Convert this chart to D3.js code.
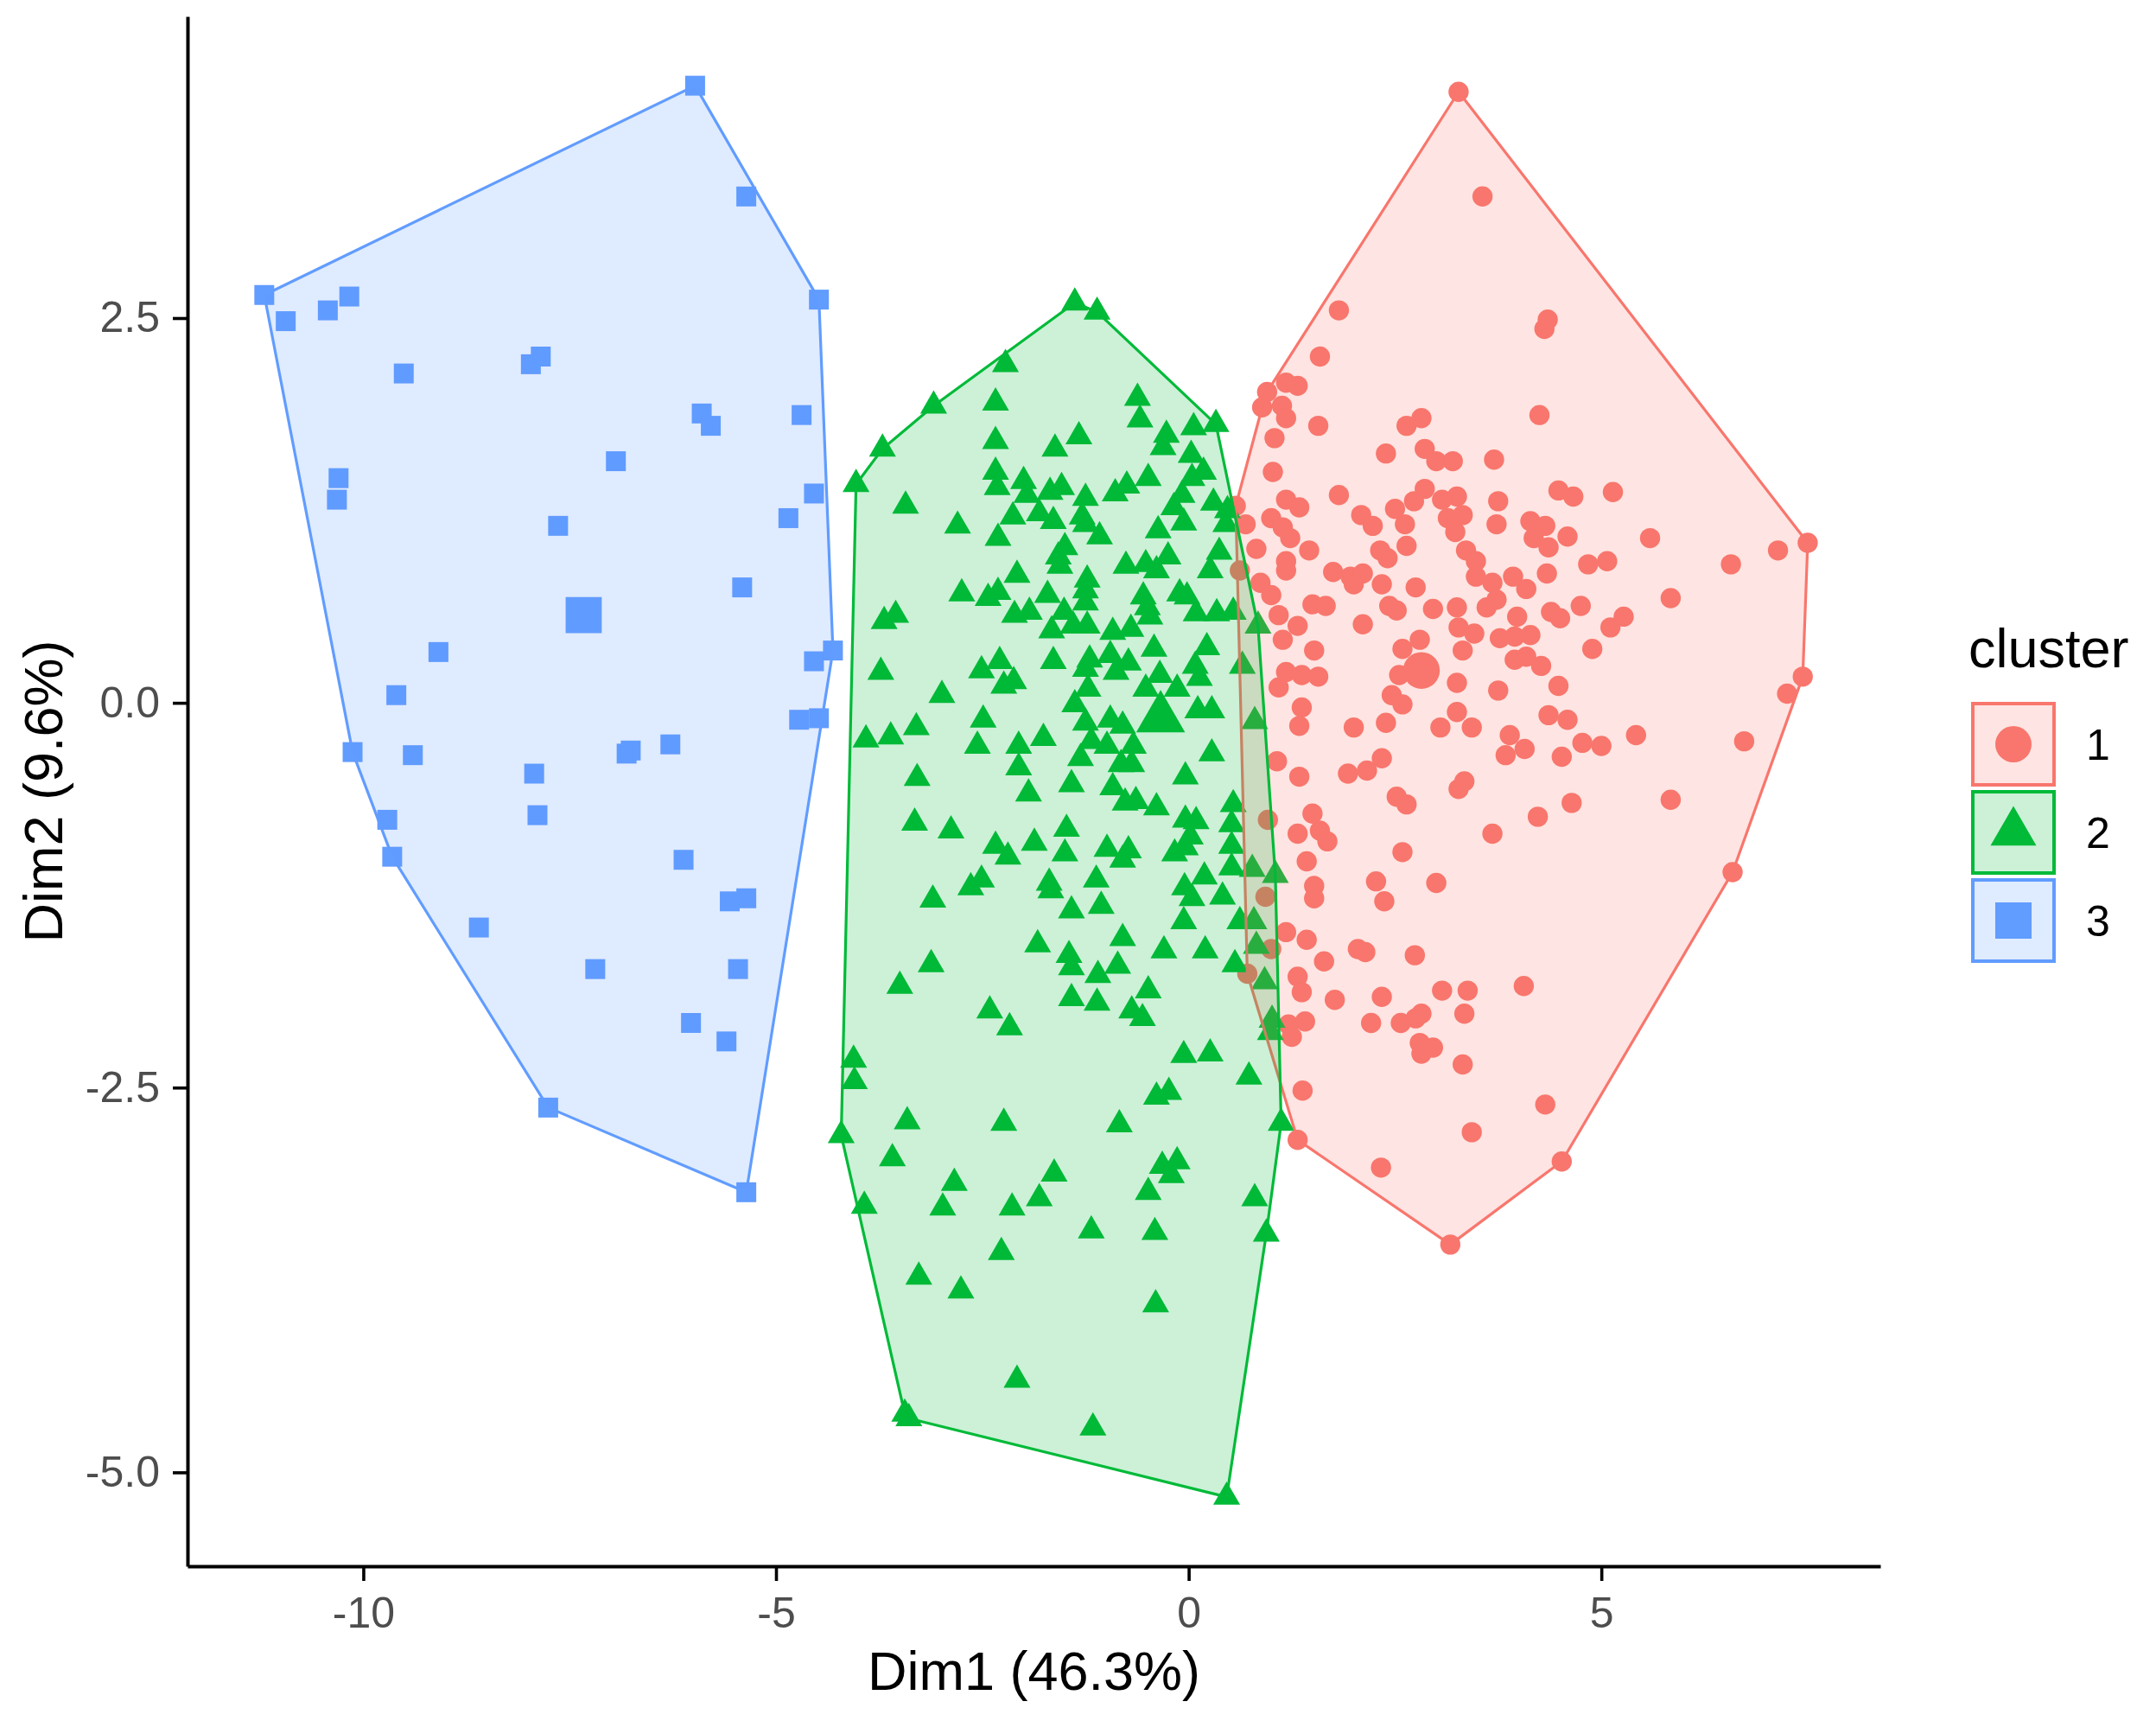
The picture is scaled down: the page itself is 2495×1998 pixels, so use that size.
<!DOCTYPE html>
<html>
<head>
<meta charset="utf-8">
<script src="https://cdn.jsdelivr.net/npm/d3@7"></script>
<style>
  html, body { margin: 0; padding: 0; background: #fff; }
  svg { display: block; font-family: "Liberation Sans", Arial, sans-serif; }
</style>
</head>
<body>
<svg id="chart" width="2495" height="1998"></svg>
<script>
// Cluster plot (PCA, k = 3).

const clusterNames = ['1', '2', '3'];
const clusterColors = ['#F8766D', '#00BA38', '#619CFF'];

const cluster1 = [
  [3.27,3.97],[3.56,3.29],[1.82,2.55],[4.35,2.49],[4.31,2.43],[1.59,2.25],[1.18,2.08],[1.32,2.06],[0.95,2.02],[0.89,1.92],
  [1.13,1.93],[1.18,1.85],[1.57,1.80],[1.04,1.72],[2.64,1.80],[2.82,1.85],[4.25,1.87],[2.39,1.62],[2.86,1.65],[3.00,1.57],
  [3.20,1.57],[3.70,1.58],[1.02,1.50],
  [1.82,1.35],[2.86,1.39],[3.25,1.34],[3.07,1.32],[4.48,1.38],[4.66,1.34],[5.14,1.37],[3.75,1.31],[1.18,1.32],[1.34,1.27],
  [2.50,1.26],[2.73,1.31],[0.57,1.28],[1.00,1.20],[1.14,1.14],[1.23,1.07],[2.09,1.22],[2.23,1.15],[2.62,1.16],[3.14,1.20],
  [3.32,1.22],[3.23,1.11],[3.73,1.16],[4.14,1.18],[4.32,1.15],[4.18,1.07],[4.36,1.01],[4.59,1.08],[5.59,1.07],[7.50,1.04],
  [7.14,0.99],[6.57,0.90],[0.69,1.16],[0.82,1.00],[1.46,0.99],[1.18,0.92],[2.64,1.02],[2.32,0.99],[2.41,0.94],[3.36,0.99],
  [3.48,0.92],[4.84,0.90],[5.07,0.92],[4.34,0.84],[0.62,0.86],[1.75,0.85],[1.96,0.82],[2.11,0.84],[2.00,0.77],[1.18,0.86],
  [3.48,0.82],[3.68,0.78],[3.93,0.82],[4.09,0.74],[2.34,0.77],[2.75,0.75],[0.87,0.78],[1.00,0.70],[5.84,0.68],[1.50,0.64],
  [1.66,0.63],[2.43,0.63],[2.52,0.60],[2.96,0.61],[3.25,0.62],[3.61,0.62],[3.73,0.67],[4.39,0.59],[4.50,0.55],[4.75,0.63],
  [3.98,0.56],[1.09,0.57],[1.32,0.50],[1.14,0.41],[2.11,0.51],[3.27,0.49],[3.46,0.45],[5.27,0.56],[5.11,0.49],[2.80,0.41],
  [2.59,0.35],[3.77,0.42],[3.95,0.43],[4.14,0.44],[3.32,0.34],[4.89,0.35],[1.52,0.34],[3.95,0.28],[4.09,0.30],[4.27,0.24],
  [2.55,0.18],[1.18,0.20],[1.37,0.18],[1.57,0.17],[1.09,0.10],[3.25,0.13],[3.75,0.08],[4.48,0.11],[2.46,0.05],[2.59,-0.01],
  [7.44,0.17],[7.25,0.06],[1.37,-0.03],[1.34,-0.15],[2.00,-0.16],[2.39,-0.13],[3.25,-0.06],[3.05,-0.16],[3.43,-0.16],[4.36,-0.08],
  [4.59,-0.11],[3.89,-0.21],[3.84,-0.34],[4.07,-0.30],[4.52,-0.35],[4.77,-0.26],[5.00,-0.28],[5.42,-0.21],[6.73,-0.25],[1.07,-0.38],
  [1.34,-0.48],[1.93,-0.46],[2.16,-0.44],[2.34,-0.36],[3.27,-0.56],[3.34,-0.51],[2.52,-0.61],[2.64,-0.66],[1.50,-0.72],[0.96,-0.76],
  [1.32,-0.85],[1.59,-0.83],[1.68,-0.90],[3.68,-0.85],[4.23,-0.74],[4.64,-0.65],[5.84,-0.63],[2.59,-0.97],[1.43,-1.03],[6.59,-1.10],
  [2.27,-1.16],[3.00,-1.17],[1.52,-1.19],
  [0.93,-1.26],[1.52,-1.27],[2.37,-1.29],[1.18,-1.49],[1.43,-1.54],[1.00,-1.60],[2.05,-1.60],[2.14,-1.62],[2.74,-1.64],[1.64,-1.68],
  [0.71,-1.76],[1.32,-1.78],[1.37,-1.88],[1.77,-1.93],[2.34,-1.91],[3.07,-1.87],[3.38,-1.87],[4.06,-1.84],[3.34,-2.02],[2.21,-2.08],
  [2.57,-2.08],[2.75,-2.05],[2.82,-2.02],[1.41,-2.07],[1.21,-2.09],[1.25,-2.17],[2.80,-2.21],[2.96,-2.24],[2.82,-2.28],[3.32,-2.35],
  [1.38,-2.52],[4.32,-2.61],[3.43,-2.79],[1.32,-2.84],[2.33,-3.02],[4.52,-2.98],[3.17,-3.52]
];

const cluster2 = [
  [-1.38,2.60],[-1.11,2.54],[-2.22,2.20],[-3.09,1.93],[-2.34,1.95],[-0.62,1.98],[-0.59,1.84],[0.33,1.81],[0.06,1.79],[-0.27,1.74],
  [-0.31,1.66],[-2.34,1.70],[-1.33,1.73],[-1.62,1.65],[-3.71,1.65],[-4.03,1.42],[0.03,1.61],[0.18,1.50],[0.04,1.46],[-2.34,1.50],
  [-2.32,1.40],[-2.00,1.44],[-1.96,1.35],[-1.68,1.37],[-1.54,1.40],[-1.25,1.33],[-0.75,1.41],[-0.89,1.36],[-0.49,1.46],[-0.08,1.35],
  [0.30,1.30],[0.47,1.25],[-0.18,1.27],[-3.43,1.28],[-2.80,1.15],[-2.13,1.21],[-1.81,1.23],[-1.64,1.18],[-1.29,1.21],[-1.25,1.16],
  [-1.08,1.08],[-0.06,1.17],[-0.37,1.12],[0.45,1.16],[-2.31,1.07],[-1.50,1.01],[-1.58,0.95],[-1.56,0.89],[-0.76,0.89],[-0.52,0.90],
  [-0.39,0.86],[-0.25,0.95],[0.37,0.98],[0.26,0.86],[-2.08,0.83],[-1.23,0.80],[-1.25,0.73],[-1.25,0.65],[-2.75,0.71],[-2.43,0.68],
  [-2.31,0.72],[-1.71,0.70],[-0.55,0.69],[-0.50,0.62],[-0.47,0.56],[-0.11,0.71],[-0.02,0.69],[0.09,0.58],[0.34,0.58],[0.54,0.59],
  [0.84,0.50],[-3.55,0.57],[-3.69,0.53],[-2.11,0.57],[-1.93,0.59],[-1.51,0.59],[-1.40,0.50],[-1.23,0.50],[-1.66,0.47],[-0.92,0.46],
  [-0.70,0.48],[-0.42,0.35],[0.22,0.36],[0.08,0.24],[-0.95,0.31],[-1.20,0.28],[-1.25,0.22],[-0.73,0.26],[-0.88,0.20],[-1.64,0.27],
  [-2.29,0.27],[-2.51,0.21],[-3.73,0.20],[-2.24,0.11],[-2.12,0.14],[-0.35,0.18],[-0.14,0.09],[0.13,0.16],[0.65,0.24],[-0.52,0.09],
  [-1.22,0.09],[-2.99,0.05],
  [-1.38,-0.01],[-0.24,-0.13],[0.11,-0.05],[0.28,-0.05],[0.80,-0.12],[-2.49,-0.11],[-3.30,-0.16],[-3.61,-0.22],[-3.91,-0.24],[-2.56,-0.28],
  [-2.06,-0.28],[-1.76,-0.23],[-1.25,-0.13],[-0.95,-0.11],[-0.80,-0.15],[-1.18,-0.25],[-0.99,-0.28],[-0.67,-0.28],[-1.31,-0.36],[-0.82,-0.40],
  [-0.69,-0.40],[0.28,-0.33],[-2.06,-0.42],[-3.29,-0.49],[-1.42,-0.53],[-0.92,-0.55],[-1.94,-0.59],[-0.04,-0.48],[-0.77,-0.65],[-0.64,-0.64],
  [-0.39,-0.68],[0.54,-0.66],[0.52,-0.79],[-0.04,-0.76],[0.09,-0.77],[0.02,-0.87],[-0.04,-0.94],[-0.17,-0.98],[0.52,-0.93],[-3.32,-0.78],
  [-2.88,-0.83],[-1.48,-0.82],[-2.34,-0.93],[-2.19,-1.00],[-1.87,-0.91],[-1.50,-0.98],[-0.99,-0.95],[-0.73,-0.96],[-0.80,-1.02],[0.52,-1.07],
  [0.77,-1.08],[1.05,-1.12],[0.19,-1.13],[-0.05,-1.20],[0.04,-1.27],[0.41,-1.26],[-2.51,-1.15],[-2.64,-1.20],[-1.69,-1.17],[-1.67,-1.22],
  [-1.12,-1.15],[-3.10,-1.28],[-1.42,-1.35],[-1.06,-1.32],[-0.06,-1.42],[0.62,-1.42],[0.79,-1.42],[0.82,-1.58],[-1.83,-1.57],[-0.80,-1.53],
  [-0.30,-1.61],[0.20,-1.61],[-1.45,-1.64],[-1.42,-1.72],[-1.10,-1.77],[-0.86,-1.71],[0.56,-1.70],[-3.12,-1.70],[-3.50,-1.84],[0.92,-1.81],
  [-0.49,-1.87],[-1.42,-1.92],[-1.11,-1.95],[-0.69,-2.00],[-0.56,-2.05],[-2.41,-2.00],[-2.17,-2.11],[1.01,-2.06],[0.99,-2.14],[-0.06,-2.29],
  [0.26,-2.28],[0.73,-2.43],[-4.06,-2.32],[-4.05,-2.46],[-0.39,-2.56],[-0.24,-2.53],
  [1.12,-2.73],[-4.21,-2.81],[-3.41,-2.72],[-2.24,-2.73],[-0.84,-2.74],[-3.59,-2.96],[-2.84,-3.12],[-1.63,-3.06],[-0.32,-3.01],[-0.14,-2.98],
  [-0.21,-3.07],[-0.49,-3.18],[-3.93,-3.27],[-2.98,-3.28],[-2.14,-3.28],[-1.81,-3.22],[0.80,-3.22],[0.94,-3.45],[-1.18,-3.43],[-0.41,-3.44],
  [-2.27,-3.57],[-3.27,-3.73],[-2.76,-3.82],[-0.40,-3.91],[-2.08,-4.40],[-3.44,-4.62],[-3.39,-4.65],[-1.16,-4.71],[0.46,-5.16]
];

const cluster3 = [
  [-5.98,4.01],[-5.36,3.29],[-11.20,2.65],[-10.94,2.48],[-10.43,2.55],[-10.17,2.64],[-4.48,2.62],[-9.51,2.14],[-7.97,2.20],[-7.85,2.25],
  [-5.90,1.88],[-5.79,1.80],[-4.69,1.87],[-6.94,1.57],[-10.30,1.46],[-10.32,1.32],[-4.54,1.36],[-4.85,1.20],[-7.64,1.15],[-5.41,0.75],
  [-9.09,0.33],[-4.31,0.34],[-4.54,0.27],[-9.60,0.05],[-4.72,-0.11],[-4.48,-0.10],[-10.13,-0.32],[-9.40,-0.34],[-7.93,-0.46],[-6.81,-0.33],
  [-6.76,-0.31],[-6.28,-0.27],[-7.89,-0.73],[-9.71,-0.76],[-9.65,-1.00],[-6.12,-1.02],[-5.56,-1.29],[-5.36,-1.27],[-8.60,-1.46],[-7.19,-1.73],
  [-5.46,-1.73],[-6.03,-2.08],[-5.60,-2.20],[-7.76,-2.63],[-5.36,-3.18]
];

// cluster centres (drawn as larger markers)
const centers = [[2.82, 0.21], [-0.34, -0.10], [-7.33, 0.57]];

const xTicks = [-10, -5, 0, 5];
const yTicks = [-5, -2.5, 0, 2.5];
const xTitle = 'Dim1 (46.3%)';
const yTitle = 'Dim2 (9.6%)';
const legendTitle = 'cluster';

(() => {
  'use strict';

  const svg = d3.select('#chart');
  const W = 2495, H = 1998;
  const plot = { left: 217, right: 2176, top: 19, bottom: 1812 };

  const x = d3.scaleLinear().domain([-12.13, 8.38]).range([plot.left, plot.right]);
  const y = d3.scaleLinear().domain([-5.61, 4.46]).range([plot.bottom, plot.top]);

  const groups = [cluster1, cluster2, cluster3];
  const shapes = [d3.symbolCircle, d3.symbolTriangle, d3.symbolSquare];
  // symbol areas, px^2
  const pointSize = [430, 420, 529];
  const centerScale = 3.3;
  const keySize = [1385, 1216, 1764];

  const locale = d3.formatLocale({ decimal: '.', thousands: ',', grouping: [3], currency: ['', ''], minus: '-' });
  const fmtX = locale.format('d');
  const fmtY = locale.format('.1f');

  svg.append('rect').attr('width', W).attr('height', H).attr('fill', '#fff');

  // points first, hull polygons on top (alpha fill tints what lies under them)
  const pointLayer = svg.append('g');
  groups.forEach((pts, i) => {
    pointLayer.append('g')
      .selectAll('path')
      .data(pts)
      .join('path')
      .attr('transform', d => `translate(${x(d[0])},${y(d[1])})`)
      .attr('d', d3.symbol().type(shapes[i]).size(pointSize[i]))
      .attr('fill', clusterColors[i]);
  });

  pointLayer.append('g')
    .selectAll('path')
    .data(centers)
    .join('path')
    .attr('transform', d => `translate(${x(d[0])},${y(d[1])})`)
    .attr('d', (d, i) => d3.symbol().type(shapes[i]).size(pointSize[i] * centerScale)())
    .attr('fill', (d, i) => clusterColors[i]);

  const hullLayer = svg.append('g');
  groups.forEach((pts, i) => {
    const hull = d3.polygonHull(pts.map(d => [x(d[0]), y(d[1])]));
    hullLayer.append('path')
      .attr('d', 'M' + hull.join('L') + 'Z')
      .attr('fill', clusterColors[i])
      .attr('fill-opacity', 0.2)
      .attr('stroke', clusterColors[i])
      .attr('stroke-width', 3.2)
      .attr('stroke-linejoin', 'round');
  });

  // axes
  const xAxis = svg.append('g')
    .attr('transform', `translate(0,${plot.bottom})`)
    .call(d3.axisBottom(x).tickValues(xTicks).tickFormat(fmtX).tickSize(17).tickSizeOuter(0).tickPadding(18));
  const yAxis = svg.append('g')
    .attr('transform', `translate(${plot.left},0)`)
    .call(d3.axisLeft(y).tickValues(yTicks).tickFormat(fmtY).tickSize(17).tickSizeOuter(0).tickPadding(15));

  [xAxis, yAxis].forEach(ax => {
    ax.select('.domain').attr('stroke', '#000').attr('stroke-width', 4);
    ax.selectAll('.tick line').attr('stroke', '#000').attr('stroke-width', 3.6);
    ax.selectAll('.tick text')
      .attr('fill', '#4D4D4D')
      .style('font-size', '50px')
      .style('font-family', '"Liberation Sans", Arial, sans-serif');
  });

  svg.append('text')
    .attr('x', (plot.left + plot.right) / 2)
    .attr('y', 1955)
    .attr('text-anchor', 'middle')
    .style('font-size', '63px')
    .attr('fill', '#000')
    .text(xTitle);

  svg.append('text')
    .attr('transform', `translate(72,${(plot.top + plot.bottom) / 2}) rotate(-90)`)
    .attr('text-anchor', 'middle')
    .style('font-size', '63px')
    .attr('fill', '#000')
    .text(yTitle);

  // legend
  const legend = svg.append('g');
  legend.append('text')
    .attr('x', 2278)
    .attr('y', 772)
    .style('font-size', '63px')
    .attr('fill', '#000')
    .text(legendTitle);

  const keyX = 2283, keyY0 = 814, keyStep = 102, keyW = 94;
  clusterNames.forEach((name, i) => {
    const ky = keyY0 + i * keyStep;
    legend.append('rect')
      .attr('x', keyX).attr('y', ky)
      .attr('width', keyW).attr('height', keyW)
      .attr('fill', clusterColors[i]).attr('fill-opacity', 0.2)
      .attr('stroke', clusterColors[i]).attr('stroke-width', 4);
    legend.append('path')
      .attr('transform', `translate(${keyX + keyW / 2},${ky + keyW / 2})`)
      .attr('d', d3.symbol().type(shapes[i]).size(keySize[i]))
      .attr('fill', clusterColors[i]);
    legend.append('text')
      .attr('x', 2414)
      .attr('y', ky + keyW / 2 + 18)
      .style('font-size', '50px')
      .attr('fill', '#000')
      .text(name);
  });
})();
</script>
</body>
</html>
